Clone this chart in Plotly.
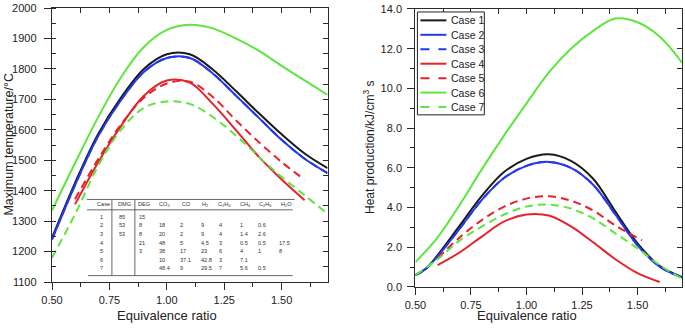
import plotly.graph_objects as go

# ---------------- data ----------------
PHI_FULL = [0.5, 0.6, 0.7, 0.8, 0.9, 1.0, 1.1, 1.2, 1.3, 1.4, 1.5, 1.6, 1.7]
PHI_MID = [0.6, 0.7, 0.8, 0.9, 1.0, 1.1, 1.2, 1.3, 1.4, 1.5, 1.6]

# Left: maximum temperature (°C)
T_CASE1 = [1245, 1425, 1585, 1705, 1800, 1848, 1848, 1798, 1728, 1655, 1585, 1522, 1474]
T_CASE2 = [1240, 1418, 1578, 1697, 1790, 1836, 1836, 1785, 1713, 1640, 1567, 1505, 1458]
T_CASE3 = [1240, 1418, 1578, 1697, 1790, 1836, 1836, 1785, 1713, 1640, 1567, 1505, 1458]
T_CASE4 = [1355, 1492, 1612, 1712, 1762, 1755, 1685, 1600, 1512, 1437, 1369]
T_CASE5 = [1372, 1502, 1617, 1705, 1752, 1758, 1708, 1632, 1560, 1494, 1436]
T_CASE6 = [1335, 1490, 1640, 1772, 1872, 1928, 1945, 1933, 1900, 1860, 1810, 1762, 1715]
T_CASE7 = [1180, 1322, 1480, 1600, 1672, 1693, 1685, 1642, 1582, 1512, 1445, 1385, 1324]

# Right: heat production (kJ/cm3 s)
PHI_R_FULL = [0.5, 0.55, 0.6, 0.7, 0.8, 0.9, 1.0, 1.1, 1.2, 1.3, 1.4, 1.5, 1.6, 1.7]
H_CASE1 = [0.6, 0.95, 1.6, 3.1, 4.6, 5.8, 6.45, 6.68, 6.35, 5.45, 3.8, 2.2, 1.05, 0.5]
H_CASE2 = [0.6, 0.95, 1.55, 2.95, 4.4, 5.5, 6.1, 6.3, 6.0, 5.15, 3.65, 2.1, 1.02, 0.48]
H_CASE3 = [0.6, 0.95, 1.55, 2.95, 4.4, 5.5, 6.1, 6.3, 6.0, 5.15, 3.65, 2.1, 1.02, 0.48]
PHI_R4 = [0.6, 0.7, 0.8, 0.9, 1.0, 1.1, 1.2, 1.3, 1.4, 1.5, 1.6]
H_CASE4 = [1.1, 1.75, 2.55, 3.3, 3.65, 3.6, 3.05, 2.25, 1.4, 0.7, 0.25]
PHI_R5 = [0.6, 0.7, 0.8, 0.9, 1.0, 1.1, 1.2, 1.3, 1.4, 1.52]
H_CASE5 = [1.45, 2.5, 3.38, 4.05, 4.45, 4.57, 4.35, 3.85, 3.1, 2.35]
PHI_R6 = [0.5, 0.6, 0.7, 0.8, 0.9, 1.0, 1.1, 1.2, 1.3, 1.4, 1.5, 1.6, 1.7]
H_CASE6 = [1.25, 2.5, 4.15, 5.95, 7.65, 9.25, 10.8, 12.0, 12.9, 13.52, 13.33, 12.6, 11.3]
H_CASE7 = [0.6, 1.4, 2.35, 3.05, 3.65, 4.05, 4.15, 3.95, 3.45, 2.7, 1.95, 1.1, 0.42]

CASE_NAMES = ["Case 1", "Case 2", "Case 3", "Case 4", "Case 5", "Case 6", "Case 7"]

# Tick labels
X_TICKS = [0.5, 0.75, 1.0, 1.25, 1.5]
T_TICKS = [1100, 1200, 1300, 1400, 1500, 1600, 1700, 1800, 1900, 2000]
H_TICKS = [0, 2, 4, 6, 8, 10, 12, 14]

# Table inset
TABLE_HEADERS = ["Case", "DMG", "DEG", "CO<sub>2</sub>", "CO", "H<sub>2</sub>",
                 "C<sub>2</sub>H<sub>4</sub>", "CH<sub>4</sub>", "C<sub>2</sub>H<sub>6</sub>", "H<sub>2</sub>O"]
TABLE_ROWS = [
    ["1", "85", "15", "", "", "", "", "", "", ""],
    ["2", "53", "8", "18", "2", "9", "4", "1", "0.6", ""],
    ["3", "53", "8", "20", "2", "9", "4", "1.4", "2.6", ""],
    ["4", "", "21", "48", "5", "4.5", "3", "0.5", "0.5", "17.5"],
    ["5", "", "3", "38", "17", "23", "6", "4", "1", "8"],
    ["6", "", "", "10", "37.1", "42.8", "3", "7.1", "", ""],
    ["7", "", "", "48.4", "9", "29.5", "7", "5.6", "0.5", ""],
]

# ---------------- styles ----------------
BLACK = "#1a1a1a"
BLUE = "#2438f0"
RED = "#e8222c"
GREEN = "#5fe63e"
STYLES = [
    (BLACK, "solid"), (BLUE, "solid"), (BLUE, "8px,5px"), (RED, "solid"),
    (RED, "8px,5px"), (GREEN, "solid"), (GREEN, "8px,5px"),
]
FONT = "Liberation Sans, Arial, sans-serif"
AX = "#2a2a2a"

fig = go.Figure()

left_series = [
    (PHI_FULL, T_CASE3, 2), (PHI_FULL, T_CASE1, 0), (PHI_FULL, T_CASE2, 1),
    (PHI_MID, T_CASE5, 4), (PHI_MID, T_CASE4, 3),
    (PHI_FULL, T_CASE6, 5), (PHI_FULL, T_CASE7, 6),
]
for xs, ys, i in left_series:
    c, d = STYLES[i]
    fig.add_trace(go.Scatter(x=xs, y=ys, mode="lines", name=CASE_NAMES[i],
                             line=dict(color=c, dash=d, width=2, shape="spline", smoothing=1),
                             showlegend=False, xaxis="x", yaxis="y"))

right_series = [
    (PHI_R_FULL, H_CASE3, 2), (PHI_R_FULL, H_CASE1, 0), (PHI_R_FULL, H_CASE2, 1),
    (PHI_R4, H_CASE4, 3), (PHI_R5, H_CASE5, 4), (PHI_R6, H_CASE6, 5), (PHI_FULL, H_CASE7, 6),
]
for xs, ys, i in right_series:
    c, d = STYLES[i]
    fig.add_trace(go.Scatter(x=xs, y=ys, mode="lines", name=CASE_NAMES[i],
                             line=dict(color=c, dash=d, width=2, shape="spline", smoothing=1),
                             showlegend=False, xaxis="x2", yaxis="y2"))

# empty traces to activate mirrored tick axes
fig.add_trace(go.Scatter(x=[None], y=[None], xaxis="x3", yaxis="y3", showlegend=False, hoverinfo="skip"))
fig.add_trace(go.Scatter(x=[None], y=[None], xaxis="x4", yaxis="y4", showlegend=False, hoverinfo="skip"))

# ---------------- geometry ----------------
W, H = 685, 328
ML, MR, MT, MB = 52, 2, 5, 41
PW, PH = W - ML - MR, H - MT - MB
LX0, LX1 = 52, 328
RX0, RX1 = 416, 683
LY0, LY1 = 5, 282
RY0, RY1 = 6, 287


def pxp(px):
    return (px - ML) / PW


def pyp(py):
    return 1 - (py - MT) / PH


tick_font = dict(family=FONT, size=11, color="#222")

common_x = dict(range=[0.5, 1.7], tickmode="array", tickvals=X_TICKS,
                ticktext=[f"{v:.2f}" for v in X_TICKS], ticklabeloverflow="allow",
                ticks="outside", ticklen=7, tickwidth=1.2, tickcolor=AX,
                minor=dict(tick0=0.5, dtick=0.125, ticks="outside", ticklen=4, tickcolor=AX),
                showline=True, linecolor=AX, linewidth=1.4, mirror=True,
                showgrid=False, zeroline=False, tickfont=tick_font, ticklabelstandoff=1)

fig.update_layout(
    width=W, height=H, margin=dict(l=ML, r=MR, t=MT, b=MB),
    paper_bgcolor="white", plot_bgcolor="white",
    font=dict(family=FONT, color="#222"),
    showlegend=False,
    xaxis=dict(domain=[pxp(LX0), pxp(LX1)], anchor="y", **common_x),
    yaxis=dict(domain=[pyp(LY1), pyp(LY0)], anchor="x", range=[1100, 2000],
               tickmode="array", tickvals=T_TICKS, ticktext=[str(v) for v in T_TICKS],
               ticklabeloverflow="allow",
               ticks="outside", ticklen=7, tickwidth=1.2, tickcolor=AX,
               minor=dict(tick0=1100, dtick=50, ticks="inside", ticklen=4, tickcolor=AX),
               showline=True, linecolor=AX, linewidth=1.4, mirror=True,
               showgrid=False, zeroline=False, tickfont=tick_font, ticklabelstandoff=5),
    xaxis2=dict(domain=[pxp(RX0), pxp(RX1)], anchor="y2", **common_x),
    yaxis2=dict(domain=[pyp(RY1), pyp(RY0)], anchor="x2", range=[0, 14],
                tickmode="array", tickvals=H_TICKS, ticktext=[f"{v:.1f}" for v in H_TICKS],
                ticklabeloverflow="allow",
                ticks="outside", ticklen=7, tickwidth=1.2, tickcolor=AX,
                minor=dict(tick0=0, dtick=1, ticks="outside", ticklen=4, tickcolor=AX),
                showline=True, linecolor=AX, linewidth=1.4, mirror=True,
                showgrid=False, zeroline=False, tickfont=tick_font, ticklabelstandoff=3),
    xaxis3=dict(overlaying="x", anchor="y3", side="top", range=[0.5, 1.7], tick0=0.5, dtick=0.125,
                ticks="inside", ticklen=5, tickcolor=AX, showticklabels=False,
                showline=False, showgrid=False, zeroline=False),
    yaxis3=dict(overlaying="y", anchor="x3", side="right", range=[1100, 2000], tick0=1100, dtick=50,
                ticks="inside", ticklen=5, tickcolor=AX, showticklabels=False,
                showline=False, showgrid=False, zeroline=False),
    xaxis4=dict(overlaying="x2", anchor="y4", side="top", range=[0.5, 1.7], tick0=0.5, dtick=0.125,
                ticks="inside", ticklen=5, tickcolor=AX, showticklabels=False,
                showline=False, showgrid=False, zeroline=False),
    yaxis4=dict(overlaying="y2", anchor="x4", side="right", range=[0, 14], tick0=0, dtick=1,
                ticks="inside", ticklen=5, tickcolor=AX, showticklabels=False,
                showline=False, showgrid=False, zeroline=False),
)

# titles as annotations
ann = []
title_font = dict(family=FONT, size=13, color="#222")
ann.append(dict(text="Equivalence ratio", x=pxp(167), y=pyp(315.5), xref="paper", yref="paper",
                xanchor="center", yanchor="middle", showarrow=False, font=title_font))
ann.append(dict(text="Equivalence ratio", x=pxp(528), y=pyp(315.5), xref="paper", yref="paper",
                xanchor="center", yanchor="middle", showarrow=False, font=title_font))
ann.append(dict(text="Maximum temperature/°C", x=pxp(8), y=pyp(143), xref="paper", yref="paper",
                xanchor="center", yanchor="middle",
                textangle=-90, showarrow=False, font=dict(family=FONT, size=12.5, color="#222")))
ann.append(dict(text="Heat production/kJ/cm<sup>3</sup> s", x=pxp(369), y=pyp(146), xref="paper",
                yref="paper", xanchor="center", yanchor="middle", textangle=-90, showarrow=False,
                font=dict(family=FONT, size=12, color="#222")))

shapes = []

# legend (drawn in the right panel, top-left corner)
LEG_X0, LEG_X1, LEG_Y0, LEG_Y1 = 418, 485, 9, 113
shapes.append(dict(type="rect", xref="paper", yref="paper", x0=pxp(LEG_X0), x1=pxp(LEG_X1),
                   y0=pyp(LEG_Y1), y1=pyp(LEG_Y0), line=dict(color="#222", width=1),
                   fillcolor="white", layer="above"))
for k, name in enumerate(CASE_NAMES):
    c, d = STYLES[k]
    yy = 17.5 + k * 14.6
    dash = "solid" if d == "solid" else "dash"
    shapes.append(dict(type="line", xref="paper", yref="paper", x0=pxp(421), x1=pxp(447),
                       y0=pyp(yy), y1=pyp(yy), line=dict(color=c, width=2, dash=dash), layer="above"))
    ann.append(dict(text=name, x=pxp(450), y=pyp(yy), xref="paper", yref="paper",
                    xanchor="left", yanchor="middle", showarrow=False,
                    font=dict(family=FONT, size=10.5, color="#222")))


# table inset (placed in left-axis data coordinates)
def dx(px):
    return 0.5 + (px - LX0) / (LX1 - LX0) * 1.2


def dy(py):
    return 2000 - (py - LY0) / (LY1 - LY0) * 900


HEAD_X = [95, 116.5, 136.5, 157.5, 180, 200, 216.5, 238, 257, 279]
VAL_X = [98.5, 117.5, 137.5, 157.5, 178.5, 199.5, 217, 238.5, 256, 277]
HEAD_Y = 203.5
ROW_Y = [216, 224.7, 233.4, 242.1, 250.8, 259.5, 268.2]
tfont = dict(family=FONT, size=5.6, color="#333")
for hx, h in zip(HEAD_X, TABLE_HEADERS):
    ann.append(dict(text=h, x=dx(hx), y=dy(HEAD_Y), xref="x", yref="y", xanchor="left",
                    yanchor="middle", showarrow=False, font=tfont))
for ry, row in zip(ROW_Y, TABLE_ROWS):
    for vx, v in zip(VAL_X, row):
        if v:
            ann.append(dict(text=v, x=dx(vx), y=dy(ry), xref="x", yref="y", xanchor="left",
                            yanchor="middle", showarrow=False, font=tfont))

lc = dict(color="#555", width=0.9)
for (x0, x1, yy) in [(87, 295, 198.5), (87, 293, 209), (88, 293, 275.5)]:
    shapes.append(dict(type="line", xref="x", yref="y", x0=dx(x0), x1=dx(x1), y0=dy(yy), y1=dy(yy), line=lc))
for xx in [112, 135]:
    shapes.append(dict(type="line", xref="x", yref="y", x0=dx(xx), x1=dx(xx), y0=dy(198.5), y1=dy(275.5), line=lc))

fig.update_layout(annotations=ann, shapes=shapes)

fig.write_html("out.html", config={"displayModeBar": False},
               post_script="document.body.style.margin='0';")
